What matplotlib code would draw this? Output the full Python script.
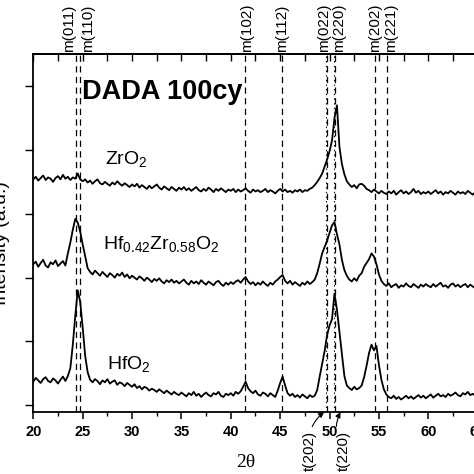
import matplotlib
matplotlib.use('Agg')
import matplotlib.pyplot as plt
import numpy as np
from matplotlib.ticker import MultipleLocator

plt.rcParams['font.family'] = ['Liberation Sans', 'DejaVu Sans']
plt.rcParams['mathtext.fontset'] = 'custom'
plt.rcParams['mathtext.rm'] = 'Liberation Sans'

# intensities (a.u.), 2theta = 20 ... 65 in 0.25 deg steps
hfo2 = [37, 43, 39, 35, 41, 44, 38, 36, 42, 39, 34, 40, 45, 38, 46, 58, 95, 140, 180, 162,
        122, 78, 52, 40, 36, 41, 38, 33, 39, 36, 41, 34, 37, 39, 32, 36, 34, 30, 35, 32,
        29, 33, 27, 30, 25, 29, 27, 23, 26, 24, 21, 25, 22, 19, 23, 20, 17, 21, 18, 16,
        20, 17, 14, 19, 16, 21, 15, 18, 13, 17, 20, 16, 14, 19, 17, 21, 15, 13, 18, 16,
        19, 15, 21, 18, 22, 29, 37, 27, 22, 19, 23, 17, 15, 20, 18, 14, 19, 16, 13, 23,
        35, 45, 31, 19, 15, 18, 13, 16, 12, 17, 14, 11, 16, 13, 15, 24, 45, 65, 85, 110,
        125, 135, 175, 150, 115, 80, 46, 31, 27, 24, 29, 25, 27, 31, 44, 62, 82, 95, 86, 93,
        63, 40, 25, 17, 13, 11, 15, 10, 13, 9, 12, 15, 11, 14, 10, 13, 16, 12, 15, 11,
        14, 17, 12, 15, 18, 14, 16, 13, 18, 15, 17, 20, 16, 14, 19, 17, 21, 16, 18, 15,
        17]
hzo = [221, 225, 217, 223, 228, 219, 216, 224, 221, 227, 218, 222, 226, 219, 238, 255, 275, 292, 286, 272,
       252, 234, 215, 209, 205, 211, 207, 203, 209, 205, 201, 207, 204, 200, 206, 203, 208, 201, 205, 199,
       203, 200, 197, 202, 199, 195, 200, 197, 193, 198, 195, 199, 194, 191, 196, 193, 197, 192, 195, 191,
       194, 197, 192, 189, 195, 191, 194, 190, 196, 192, 189, 194, 191, 188, 193, 195, 190, 187, 192, 189,
       193, 190, 194, 196, 192, 197, 201, 194, 190, 193, 188, 192, 189, 194, 190, 187, 192, 189, 194, 197,
       201, 204, 195, 191, 195, 189, 193, 190, 187, 192, 189, 194, 190, 193, 197, 207, 222, 238, 248, 258,
       270, 282, 287, 268, 252, 228, 212, 203, 197, 194, 199, 195, 203, 207, 217, 223, 229, 238, 233, 221,
       205, 195, 190, 187, 191, 185, 188, 190, 184, 188, 186, 191, 187, 185, 190, 187, 184, 189, 186, 190,
       187, 185, 190, 186, 189, 192, 186, 188, 184, 189, 191, 186, 189, 185, 188, 190, 185, 189, 186, 184,
       188]
zro2 = [354, 358, 352, 356, 360, 353, 357, 355, 350, 356, 359, 354, 361, 355, 358, 353, 357, 355, 363, 354,
        351, 354, 349, 352, 347, 351, 354, 348, 346, 350, 347, 344, 349, 346, 351, 347, 344, 348, 345, 342,
        346, 343, 347, 341, 345, 342, 339, 344, 340, 343, 346, 341, 338, 343, 340, 337, 342, 339, 336, 341,
        338, 342, 337, 340, 336, 339, 342, 337, 335, 339, 336, 341, 338, 334, 339, 336, 340, 337, 334, 338,
        336, 339, 334, 338, 335, 337, 340, 336, 333, 338, 335, 337, 334, 336, 339, 334, 337, 335, 332, 336,
        339, 335, 338, 334, 336, 333, 337, 335, 338, 334, 337, 336, 339, 341, 345, 350, 356, 363, 374, 385,
        398, 415, 450, 470, 405, 378, 362, 351, 346, 342, 345, 340, 346, 347, 344, 339, 337, 334, 338, 335,
        332, 336, 333, 331, 335, 332, 336, 330, 334, 337, 332, 335, 331, 334, 339, 333, 336, 331, 334, 332,
        335, 331, 334, 337, 332, 335, 330, 334, 332, 336, 333, 330, 335, 332, 334, 331, 336, 333, 330, 334,
        332]

m_peaks = [24.35, 24.73, 41.47, 45.19, 49.74, 50.58, 54.56, 55.81]
m_labels = ['m(011)', 'm(110)', 'm(102)', 'm(112)', 'm(022)', 'm(220)', 'm(202)', 'm(221)']
m_label_x = [23.65, 25.55, 41.6, 45.2, 49.4, 50.95, 54.6, 56.25]
t_peaks = [49.62, 50.45]
t_labels = ['t(202)', 't(220)']
t_label_x = [48.0, 51.45]
t_arrow_x = [49.45, 51.1]

fig = plt.figure(figsize=(4.74, 4.74), dpi=100)
ax = fig.add_axes([33.3 / 474, 62 / 474, 50 * 9.875 / 474, 358.4 / 474])

for y in (hfo2, hzo, zro2):
    x = 20 + 0.25 * np.arange(len(y))
    ax.plot(x, y, color='black', lw=1.3)

for p in m_peaks:
    ax.axvline(p, color='black', lw=0.9, dashes=(5, 3.5))
for p in t_peaks:
    ax.axvline(p, color='black', lw=0.8, dashes=(1.2, 3))

for lx, lab in zip(m_label_x, m_labels):
    ax.text(lx, 1.004, lab, transform=ax.get_xaxis_transform(), rotation=90,
            ha='center', va='bottom', fontsize=11)

for lx, ax_x, lab in zip(t_label_x, t_arrow_x, t_labels):
    ax.annotate(lab, xy=(ax_x, 0), xycoords=ax.get_xaxis_transform(),
                xytext=(lx, -0.052), textcoords=ax.get_xaxis_transform(),
                rotation=90, ha='center', va='top', fontsize=11,
                arrowprops=dict(arrowstyle='-|>', color='black', lw=0.8,
                                mutation_scale=8, shrinkA=1, shrinkB=0,
                                connectionstyle='arc3,rad=-0.3'))

ax.set_xlim(20, 70)
ax.set_ylim(-10.5, 551)
ax.xaxis.set_major_locator(MultipleLocator(5))
ax.xaxis.set_minor_locator(MultipleLocator(2.5))
ax.set_yticks([0, 100, 200, 300, 400, 500])
ax.set_yticklabels([])
ax.tick_params(axis='x', which='major', direction='out', length=5, width=1.1, pad=4,
               labelsize=10.5)
ax.tick_params(axis='x', which='minor', direction='out', length=3, width=1.0)
ax.tick_params(axis='y', direction='out', length=6, width=1.0)
for lab in ax.get_xticklabels():
    lab.set_fontweight('bold')
for s in ['left', 'bottom', 'top']:
    ax.spines[s].set_linewidth(1.3)
ax.spines['right'].set_visible(False)

top = ax.secondary_xaxis('top')
top.xaxis.set_major_locator(MultipleLocator(5))
top.xaxis.set_minor_locator(MultipleLocator(2.5))
top.tick_params(which='both', direction='in', length=5, width=1.0, labeltop=False)
top.spines['top'].set_linewidth(1.3)

fig.text(82 / 474, 1 - 99 / 474, 'DADA 100cy', fontsize=19.5, fontweight='bold', va='baseline')
fig.text(105 / 474, 1 - 165 / 474, r'ZrO$_2$', fontsize=14, va='baseline')
fig.text(103 / 474, 1 - 250 / 474, r'Hf$_{0.42}$Zr$_{0.58}$O$_2$', fontsize=14, va='baseline')
fig.text(107 / 474, 1 - 370 / 474, r'HfO$_2$', fontsize=14, va='baseline')
fig.text(246 / 474, 1 - 467 / 474, '2θ', fontsize=14, family='Liberation Serif',
         ha='center', va='baseline')
fig.text(10 / 474, 1 - 243 / 474, 'Intensity (a.u.)', fontsize=14, rotation=90,
         ha='right', va='center')

fig.savefig('out.png', dpi=100)
